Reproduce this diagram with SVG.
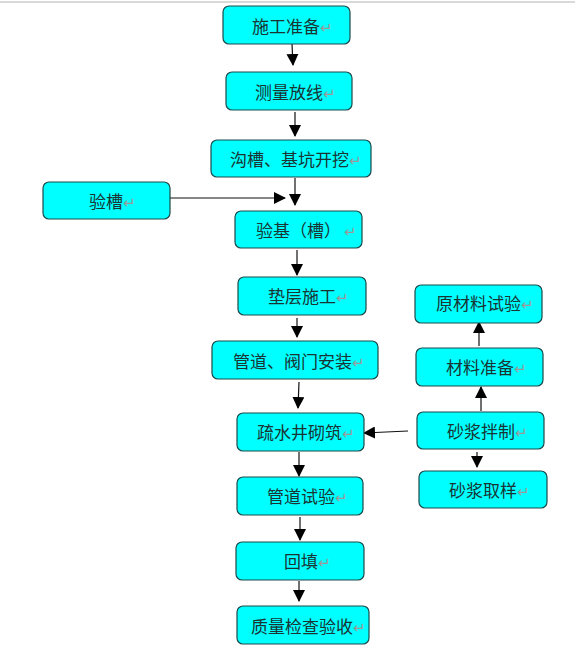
<svg xmlns="http://www.w3.org/2000/svg" width="575" height="654" viewBox="0 0 575 654">
<style>
.n{fill:#00ffff;stroke:#1a4a4a;stroke-width:1.2}
.t{font-family:"Noto Sans CJK SC","Noto Sans",sans-serif;font-size:17px;fill:#1a3333}
.r{fill:#999999;font-size:15px;font-family:"DejaVu Sans",sans-serif}
.c{stroke:#111;stroke-width:1.2;fill:none;marker-end:url(#a)}
</style>
<defs>
<marker id="a" markerUnits="userSpaceOnUse" markerWidth="12" markerHeight="12" viewBox="0 0 12 12" refX="11" refY="6" orient="auto">
<path d="M0,0 L12,6 L0,12 Z" fill="#000"/>
</marker>
</defs>
<rect width="575" height="654" fill="#fff"/>
<line x1="0" y1="2" x2="575" y2="2" stroke="#cccccc" stroke-width="1.5"/>
<g id="connectors">
<line class="c" x1="292" y1="44" x2="293" y2="65"/>
<line class="c" x1="295" y1="112" x2="295" y2="136"/>
<line class="c" x1="295" y1="178" x2="295" y2="205"/>
<line class="c" x1="170" y1="198" x2="285" y2="198"/>
<line class="c" x1="297" y1="250" x2="297" y2="275"/>
<line class="c" x1="297" y1="318" x2="297" y2="337"/>
<line class="c" x1="299" y1="382" x2="298" y2="408"/>
<line class="c" x1="408" y1="431" x2="364" y2="433"/>
<line class="c" x1="299" y1="452" x2="299" y2="476"/>
<line class="c" x1="300" y1="517" x2="300" y2="540"/>
<line class="c" x1="299" y1="581" x2="299" y2="601"/>
<line class="c" x1="479" y1="346" x2="479" y2="322"/>
<line class="c" x1="481" y1="411" x2="481" y2="387"/>
<line class="c" x1="477" y1="452" x2="477" y2="467"/>
</g>
<g id="n1"><rect class="n" x="223" y="6" width="127" height="38" rx="6"/><text class="t" x="252" y="33">施工准备<tspan class="r">↵</tspan></text></g>
<g id="n2"><rect class="n" x="226" y="72" width="126" height="38" rx="6"/><text class="t" x="255" y="99">测量放线<tspan class="r">↵</tspan></text></g>
<g id="n3"><rect class="n" x="211" y="140" width="160" height="37" rx="6"/><text class="t" x="230" y="166">沟槽、基坑开挖<tspan class="r">↵</tspan></text></g>
<g id="n4"><rect class="n" x="43" y="182" width="127" height="37" rx="6"/><text class="t" x="89" y="208">验槽<tspan class="r">↵</tspan></text></g>
<g id="n5"><rect class="n" x="235" y="211" width="127" height="37" rx="6"/><text class="t" x="256" y="237">验基（槽）<tspan class="r" dx="3">↵</tspan></text></g>
<g id="n6"><rect class="n" x="238" y="277" width="128" height="38" rx="6"/><text class="t" x="268" y="303">垫层施工<tspan class="r">↵</tspan></text></g>
<g id="n7"><rect class="n" x="212" y="341" width="166" height="38" rx="6"/><text class="t" x="233" y="368">管道、阀门安装<tspan class="r">↵</tspan></text></g>
<g id="n8"><rect class="n" x="237" y="413" width="127" height="38" rx="6"/><text class="t" x="257" y="439">疏水井砌筑<tspan class="r">↵</tspan></text></g>
<g id="n9"><rect class="n" x="237" y="477" width="126" height="38" rx="6"/><text class="t" x="267" y="503">管道试验<tspan class="r">↵</tspan></text></g>
<g id="n10"><rect class="n" x="236" y="542" width="128" height="38" rx="6"/><text class="t" x="284" y="568">回填<tspan class="r">↵</tspan></text></g>
<g id="n11"><rect class="n" x="237" y="606" width="132" height="38" rx="6"/><text class="t" x="251" y="633">质量检查验收<tspan class="r">↵</tspan></text></g>
<g id="n12"><rect class="n" x="415" y="285" width="127" height="38" rx="6"/><text class="t" x="436" y="310">原材料试验<tspan class="r">↵</tspan></text></g>
<g id="n13"><rect class="n" x="416" y="348" width="127" height="38" rx="6"/><text class="t" x="446" y="374">材料准备<tspan class="r">↵</tspan></text></g>
<g id="n14"><rect class="n" x="417" y="412" width="127" height="37" rx="6"/><text class="t" x="447" y="438">砂浆拌制<tspan class="r">↵</tspan></text></g>
<g id="n15"><rect class="n" x="419" y="471" width="128" height="37" rx="6"/><text class="t" x="449" y="497">砂浆取样<tspan class="r">↵</tspan></text></g>
</svg>
